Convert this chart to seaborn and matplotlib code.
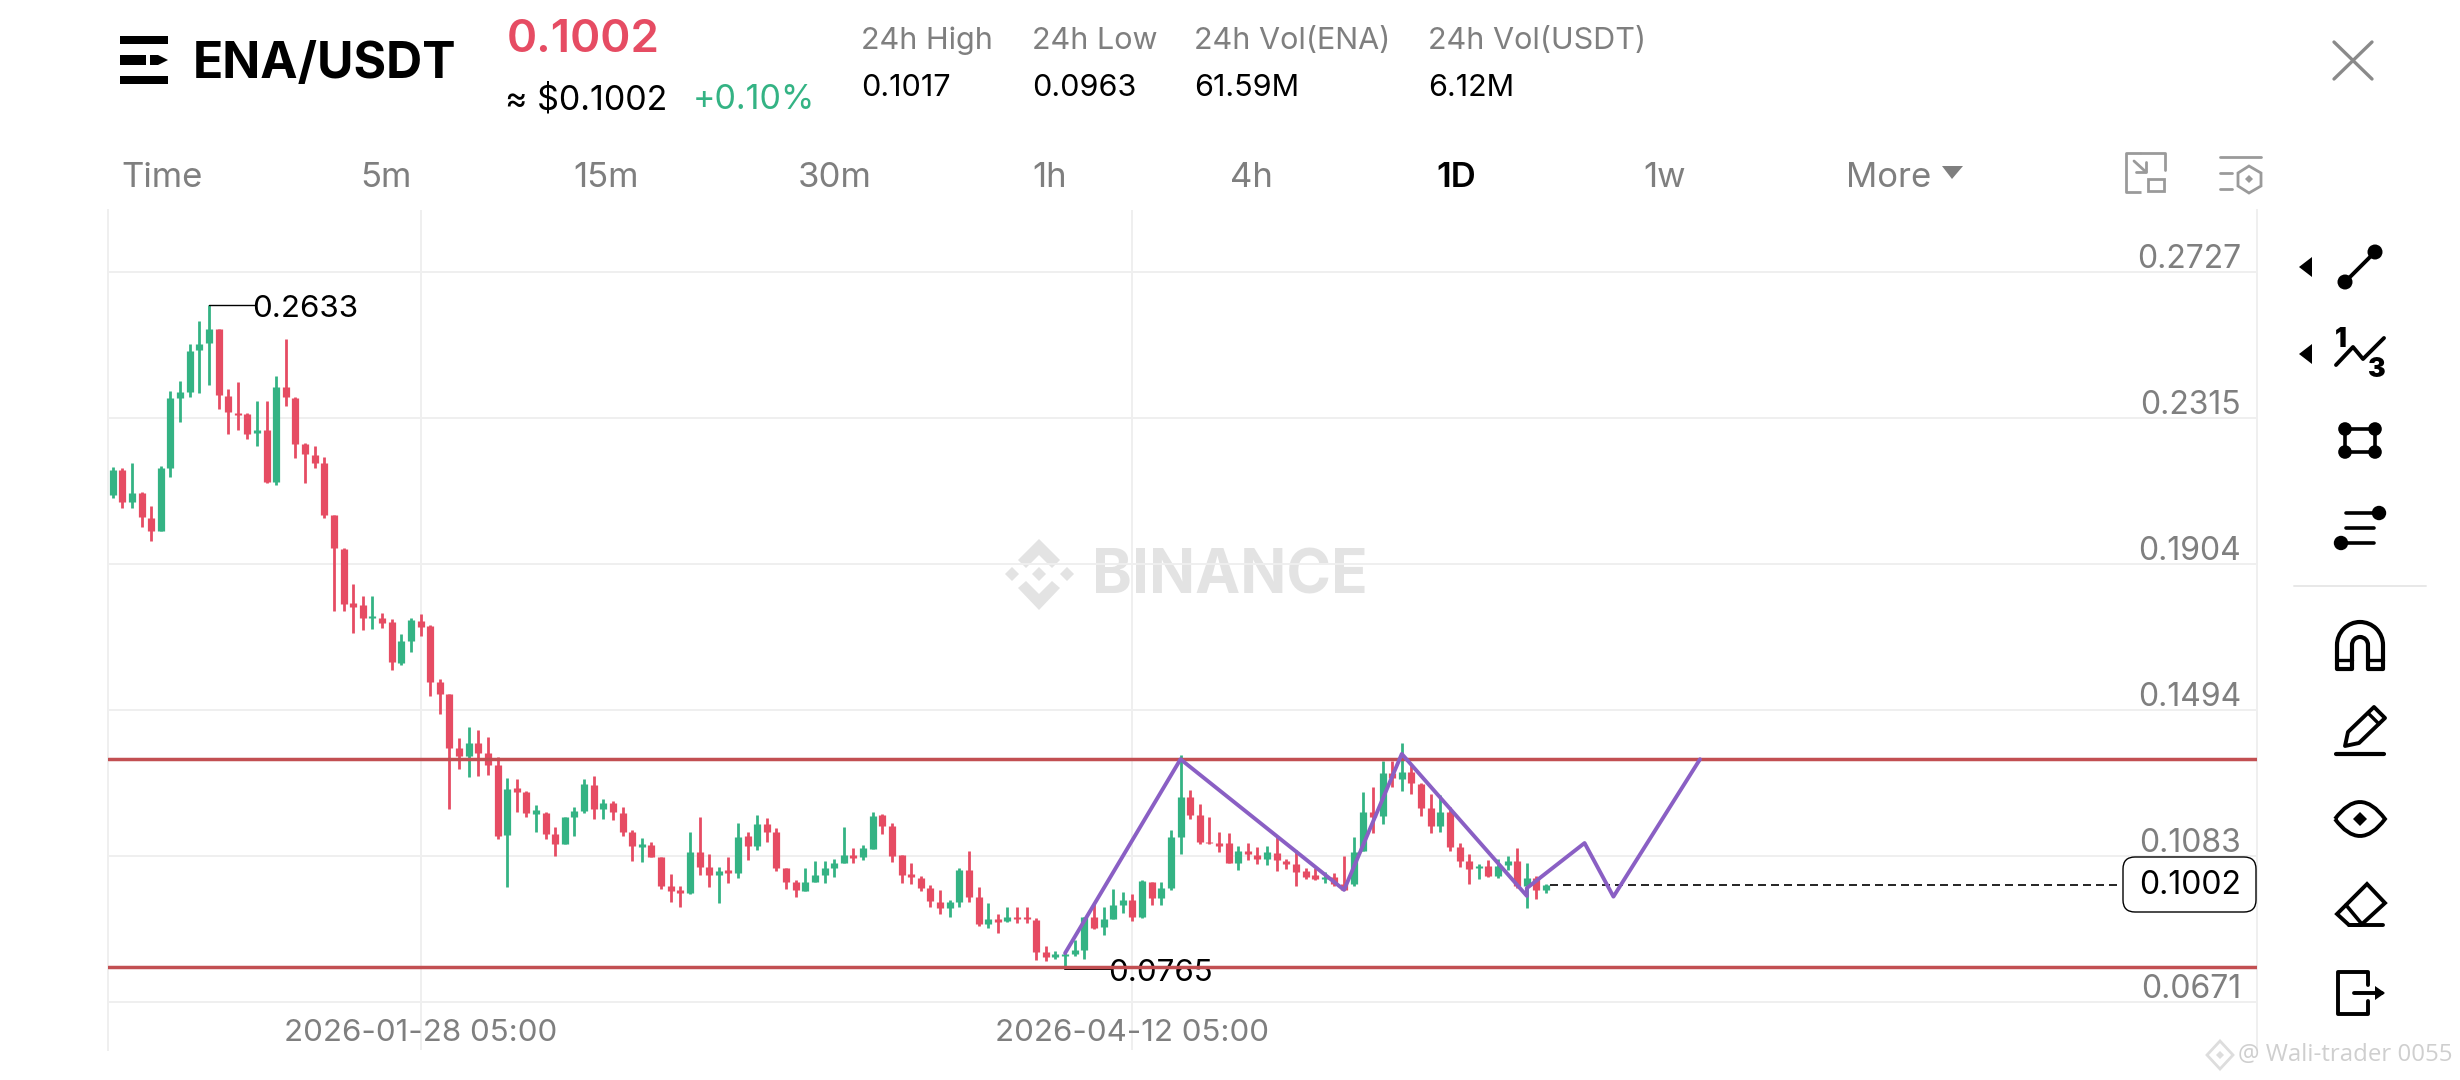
import numpy as np
import pandas as pd
import matplotlib
matplotlib.use("Agg")
import matplotlib.pyplot as plt
import matplotlib.transforms as mtransforms
import seaborn as sns
from matplotlib.patches import Arc, Circle, FancyBboxPatch, PathPatch, Polygon, Rectangle
from matplotlib.path import Path

# ENA/USDT daily candles
highs = [
    .2179, .2174, .2188, .2107, .2069, .2182, .2393, .2420, .2523, .2590,
    .2633, .2567, .2397, .2416, .2331, .2364, .2365, .2434, .2538, .2374,
    .2246, .2238, .2205, .2042, .1949, .1848, .1815, .1816, .1766, .1749,
    .1709, .1752, .1763, .1733, .1580, .1538, .1416, .1447, .1437, .1419,
    .1360, .1303, .1298, .1265, .1226, .1205, .1165, .1193, .1221, .1300,
    .1309, .1242, .1238, .1220, .1156, .1132, .1123, .1080, .1031, .0998,
    .1149, .1193, .1088, .1052, .1081, .1176, .1151, .1198, .1189, .1161,
    .1048, .1015, .1050, .1068, .1068, .1073, .1163, .1104, .1113, .1205,
    .1200, .1176, .1085, .1064, .1027, .1001, .0987, .0960, .1048, .1097,
    .0994, .0949, .0919, .0938, .0940, .0938, .0907, .0829, .0816, .0811,
    .0846, .0912, .0947, .0938, .0989, .0982, .0975, .1015, .1010, .1008,
    .1157, .1367, .1268, .1229, .1191, .1149, .1146, .1111, .1118, .1108,
    .1112, .1137, .1074, .1099, .1048, .1048, .1038, .1036, .1082, .1135,
    .1262, .1278, .1350, .1351, .1400, .1339, .1287, .1257, .1254, .1220,
    .1120, .1087, .1060, .1071, .1074, .1082, .1104, .1062, .1026, .1005,
]
lows = [
    .2092, .2062, .2062, .2010, .1970, .1998, .2151, .2304, .2376, .2385,
    .2409, .2341, .2271, .2282, .2256, .2237, .2132, .2127, .2351, .2202,
    .2132, .2174, .2033, .1773, .1773, .1710, .1719, .1721, .1724, .1606,
    .1620, .1658, .1702, .1534, .1482, .1215, .1327, .1306, .1308, .1311,
    .1129, .0996, .1207, .1191, .1149, .1131, .1083, .1116, .1140, .1203,
    .1186, .1186, .1184, .1139, .1069, .1067, .1080, .0989, .0954, .0940,
    .0975, .1029, .0996, .0951, .1007, .1020, .1071, .1098, .1123, .1040,
    .0990, .0966, .0985, .1008, .1007, .1024, .1064, .1062, .1071, .1101,
    .1144, .1067, .1007, .1004, .0984, .0938, .0918, .0912, .0940, .0954,
    .0885, .0879, .0867, .0898, .0893, .0893, .0790, .0788, .0793, .0765,
    .0801, .0793, .0878, .0860, .0904, .0923, .0899, .0907, .0944, .0945,
    .0988, .1087, .1186, .1116, .1116, .1094, .1064, .1043, .1071, .1060,
    .1057, .1041, .1046, .0999, .1017, .1015, .1007, .0999, .0987, .0999,
    .1096, .1148, .1174, .1278, .1266, .1257, .1196, .1146, .1151, .1097,
    .1052, .1004, .1017, .1024, .1021, .1043, .0991, .0937, .0962, .0977,
]
opens = [
    .2099, .2170, .2080, .2106, .2035, .1999, .2176, .2373, .2388, .2506,
    .2526, .2566, .2379, .2331, .2326, .2273, .2282, .2137, .2404, .2373,
    .2242, .2212, .2188, .2042, .1948, .1794, .1789, .1752, .1754, .1741,
    .1625, .1689, .1745, .1730, .1573, .1538, .1386, .1365, .1400, .1372,
    .1339, .1142, .1273, .1264, .1201, .1204, .1144, .1116, .1191, .1209,
    .1282, .1214, .1233, .1204, .1151, .1109, .1113, .1079, .0999, .0987,
    .0979, .1093, .1052, .1029, .1043, .1036, .1139, .1112, .1173, .1151,
    .1048, .1008, .0985, .1008, .1029, .1050, .1064, .1085, .1079, .1102,
    .1198, .1167, .1084, .1031, .1021, .0991, .0954, .0937, .0954, .1043,
    .0966, .0891, .0905, .0899, .0912, .0910, .0902, .0813, .0799, .0801,
    .0806, .0818, .0910, .0882, .0905, .0944, .0960, .0910, .1008, .0963,
    .0991, .1136, .1248, .1198, .1123, .1120, .1120, .1064, .1097, .1085,
    .1073, .1092, .1068, .1060, .1040, .1029, .1019, .1024, .1004, .1004,
    .1096, .1206, .1195, .1315, .1298, .1320, .1285, .1217, .1167, .1207,
    .1109, .1069, .1048, .1055, .1026, .1057, .1069, .0999, .1020, .0987,
]
closes = [
    .2170, .2080, .2104, .2036, .1998, .2176, .2373, .2390, .2505, .2523,
    .2567, .2380, .2332, .2324, .2270, .2282, .2137, .2404, .2374, .2243,
    .2215, .2188, .2043, .1949, .1792, .1785, .1754, .1759, .1740, .1630,
    .1689, .1747, .1728, .1573, .1539, .1388, .1365, .1400, .1372, .1339,
    .1139, .1271, .1264, .1203, .1212, .1144, .1115, .1191, .1210, .1285,
    .1215, .1233, .1205, .1149, .1111, .1116, .1081, .0998, .0984, .0979,
    .1093, .1052, .1029, .1041, .1036, .1137, .1112, .1173, .1151, .1048,
    .1008, .0987, .1008, .1029, .1048, .1064, .1085, .1078, .1104, .1196,
    .1167, .1082, .1029, .1022, .0991, .0956, .0937, .0954, .1043, .0966,
    .0891, .0905, .0898, .0910, .0905, .0904, .0813, .0797, .0806, .0806,
    .0818, .0910, .0879, .0905, .0944, .0959, .0910, .1012, .0963, .0993,
    .1135, .1248, .1198, .1123, .1118, .1111, .1064, .1097, .1087, .1074,
    .1094, .1071, .1060, .1038, .1024, .1019, .1024, .1004, .0988, .1095,
    .1206, .1193, .1315, .1301, .1320, .1287, .1219, .1167, .1206, .1109,
    .1069, .1046, .1055, .1027, .1055, .1069, .0999, .1020, .0988, .1002,
]

# hand drawn wave, support / resistance, axis labels
wave_x = [99, 111, 128, 134, 147, 147, 153, 156, 165]
wave_y = [.0809, .1355, .0987, .1370, .0970, .0992, .1119, .0968, .1355]
resistance = .1355
support = .0771
last_price = .1002
price_ticks = [.2727, .2315, .1904, .1494, .1083, .0671]
date_ticks = [32, 106]
date_labels = ["2026-01-28 05:00", "2026-04-12 05:00"]
tabs = ["Time", "5m", "15m", "30m", "1h", "4h", "1D", "1w"]
tab_x = [162, 386, 606, 835, 1050, 1251, 1456, 1665]
stats = [("24h High", "0.1017", 861), ("24h Low", "0.0963", 1032),
         ("24h Vol(ENA)", "61.59M", 1194), ("24h Vol(USDT)", "6.12M", 1428)]

GREEN = "#34B384"
RED = "#E64C63"
LINE_RED = "#C24F52"
PURPLE = "#8A5FC4"
GRID = "#EFEFEF"
GREY = "#7F7F7F"

sns.set_theme(style="white")
plt.rcParams["font.family"] = ["Inter", "DejaVu Sans"]

df = pd.DataFrame({"candle": np.arange(len(opens)), "open": opens, "high": highs,
                   "low": lows, "close": closes})
df["dir"] = np.where(df["close"] >= df["open"], "up", "down")
wicks = df.melt(id_vars=["candle", "dir"], value_vars=["low", "high"], value_name="price")
bodies = df.melt(id_vars=["candle", "dir"], value_vars=["open", "close"], value_name="price")
palette = {"up": GREEN, "down": RED}

fig = plt.figure(figsize=(24.6, 10.8), dpi=100, facecolor="white")

# full figure layers in pixel coordinates for the app chrome
def pixel_layer(zorder):
    layer = fig.add_axes([0, 0, 1, 1], zorder=zorder)
    layer.set_xlim(0, 2460)
    layer.set_ylim(1080, 0)
    layer.axis("off")
    return layer

back = pixel_layer(-1)
ax = fig.add_axes([108 / 2460, 1 - 1050 / 1080, 2149 / 2460, 840 / 1080], zorder=1)
ui = pixel_layer(2)
ax.patch.set_alpha(0)

# candles
sns.lineplot(data=wicks, x="candle", y="price", hue="dir", units="candle", estimator=None,
             sort=False, palette=palette, legend=False, linewidth=2.0,
             solid_capstyle="butt", ax=ax, zorder=3)
sns.lineplot(data=bodies, x="candle", y="price", hue="dir", units="candle", estimator=None,
             sort=False, palette=palette, legend=False, linewidth=5.2,
             solid_capstyle="butt", ax=ax, zorder=3)

ax.axhline(resistance, color=LINE_RED, lw=2.5, zorder=5)
ax.axhline(support, color=LINE_RED, lw=2.5, zorder=5)
sns.lineplot(x=wave_x, y=wave_y, estimator=None, sort=False, color=PURPLE, linewidth=2.8,
             ax=ax, zorder=6)
ax.plot([149.4, 208.7], [last_price, last_price], color="black", lw=1.2,
        linestyle=(0, (4.8, 3.0)), zorder=4)

# high / low callouts
ax.plot([10, 14.8], [max(highs), max(highs)], color="black", lw=1, zorder=4)
ax.annotate("0.2633", xy=(14.8, max(highs)), xytext=(-2, -2.5), textcoords="offset points",
            fontsize=22.5, color="black", va="center", ha="left", zorder=4)
ax.plot([99, 103.8], [min(lows), min(lows)], color="black", lw=1.4, zorder=4)
ax.annotate("0.0765", xy=(103.8, min(lows)), xytext=(-2, -3), textcoords="offset points",
            fontsize=22.5, color="black", va="center", ha="left", zorder=4)

# axes
ax.set_xlim(-0.49, 222.9)
ax.set_ylim(0.05362, 0.29016)
ax.set_xticks(date_ticks)
ax.set_xticklabels(date_labels)
ax.set_yticks(price_ticks)
ax.set_yticklabels([f"{t:.4f}" for t in price_ticks])
ax.yaxis.tick_right()
ax.tick_params(axis="x", length=0, pad=-22, labelsize=22.5, labelcolor=GREY)
ax.tick_params(axis="y", length=0, pad=-11.5, labelsize=23, labelcolor=GREY)
# labels sit just above their grid line
label_shift = mtransforms.ScaledTranslation(0, -3 / 100, fig.dpi_scale_trans)
for lab in ax.get_yticklabels():
    lab.set_ha("right")
    lab.set_va("bottom")
    lab.set_transform(lab.get_transform() + label_shift)
ax.grid(True, color=GRID, lw=1.4, zorder=0)
ax.set_axisbelow(True)
ax.set_xlabel("")
ax.set_ylabel("")
for side in ["top", "bottom"]:
    ax.spines[side].set_visible(False)
for side in ["left", "right"]:
    ax.spines[side].set_color(GRID)
    ax.spines[side].set_linewidth(1.4)

# last price tag
ui.text(2190, 885, "0.1002", fontsize=23, color="black", ha="center", va="center", zorder=4)
ui.add_patch(FancyBboxPatch((2123, 857), 133, 55, boxstyle="round,pad=0,rounding_size=12",
                            fc="white", ec="black", lw=1, zorder=3))

# BINANCE watermark
WM = "#E3E3E3"
back.text(1092, 577, "BINANCE", fontsize=43.5, fontweight="bold", color=WM, ha="left", va="center")
for cx in [1012, 1039, 1067]:
    back.add_patch(Polygon([(cx - 7, 574), (cx, 567), (cx + 7, 574), (cx, 581)], fc=WM, ec="none"))
back.add_patch(Polygon([(1018, 560), (1039, 539), (1060, 560), (1052, 568), (1039, 555), (1026, 568)],
                       fc=WM, ec="none"))
back.add_patch(Polygon([(1018, 588), (1039, 610), (1060, 588), (1052, 581), (1039, 594), (1026, 581)],
                       fc=WM, ec="none"))

# header
ui.add_patch(Rectangle((120, 36), 48, 8, fc="black", ec="none"))
ui.add_patch(Rectangle((120, 76), 48, 8, fc="black", ec="none"))
ui.add_patch(Polygon([(120, 55), (158, 55), (168, 60), (158, 65), (120, 65)], fc="black", ec="none"))
ui.add_patch(Rectangle((146, 53), 4, 14, fc="white", ec="none"))
ui.text(193, 64, "ENA/USDT", fontsize=36, fontweight="bold", color="black", va="center")
ui.text(507, 40, "0.1002", fontsize=33, fontweight="semibold", color=RED, va="center")
ui.text(505, 100, "≈ $0.1002", fontsize=24.5, color="black", va="center")
ui.text(693, 100, "+0.10%", fontsize=24.5, color=GREEN, va="center")
for label, value, x in stats:
    ui.text(x, 41, label, fontsize=22, color=GREY, va="center")
    ui.text(x, 88, value, fontsize=22, color="black", va="center")
ui.plot([2334, 2372], [42, 79], color="#8A8A8A", lw=2.4)
ui.plot([2334, 2372], [79, 42], color="#8A8A8A", lw=2.4)

# timeframe tabs
for label, x in zip(tabs, tab_x):
    active = label == "1D"
    ui.text(x, 178, label, fontsize=25, color="black" if active else GREY,
            fontweight="semibold" if active else "normal", ha="center", va="center")
ui.text(1846, 178, "More", fontsize=25, color=GREY, va="center")
ui.add_patch(Polygon([(1942, 166), (1963, 166), (1952, 179)], fc=GREY, ec="none"))

# layout icons next to the tabs
ICON = "#9A9A9A"
ui.plot([2141, 2126, 2126, 2141], [192, 192, 153, 153], color=ICON, lw=2, solid_capstyle="butt")
ui.plot([2141, 2165, 2165], [153, 153, 170], color=ICON, lw=2)
ui.add_patch(Rectangle((2148, 179), 16, 12, fc="none", ec=ICON, lw=2))
ui.plot([2134, 2146], [161, 172], color=ICON, lw=2)
ui.plot([2146, 2146, 2136], [162, 172, 172], color=ICON, lw=2)
ui.plot([2220, 2261], [157, 157], color=ICON, lw=2)
ui.plot([2220, 2232], [173, 173], color=ICON, lw=2)
ui.plot([2220, 2232], [189, 189], color=ICON, lw=2)
ui.add_patch(Polygon([(2249, 166), (2261, 173), (2261, 186), (2249, 193), (2238, 186), (2238, 173)],
                     fc="none", ec=ICON, lw=2))
ui.add_patch(Polygon([(2249, 175), (2253, 179), (2249, 183), (2245, 179)], fc=ICON, ec="none"))

# right drawing toolbar
K = "black"
for y in [267, 354]:
    ui.add_patch(Polygon([(2299, y), (2312, y - 10), (2312, y + 10)], fc=K, ec="none"))
ui.plot([2345, 2375], [282, 252], color=K, lw=2.8)
ui.add_patch(Circle((2345, 282), 7.5, fc=K, ec="none"))
ui.add_patch(Circle((2375, 252), 7.5, fc=K, ec="none"))
ui.plot([2336, 2353, 2363, 2384], [365, 347, 359, 338], color=K, lw=2.8)
ui.text(2341, 340, "1", fontsize=19, fontweight="black", color=K, ha="center", va="center")
ui.text(2377, 370, "3", fontsize=19, fontweight="black", color=K, ha="center", va="center")
ui.plot([2345, 2375, 2375, 2345, 2345], [429, 429, 452, 452, 429], color=K, lw=2.6)
for cx, cy in [(2345, 429), (2375, 429), (2345, 452), (2375, 452)]:
    ui.add_patch(Circle((cx, cy), 6.8, fc=K, ec="none"))
ui.plot([2346, 2379], [513, 513], color=K, lw=2.6)
ui.plot([2346, 2374], [528, 528], color=K, lw=2.6)
ui.plot([2341, 2374], [543, 543], color=K, lw=2.6)
ui.add_patch(Circle((2379, 513), 7.2, fc=K, ec="none"))
ui.add_patch(Circle((2341, 543), 7.2, fc=K, ec="none"))
ui.plot([2294, 2426], [586, 586], color="#E8E8E8", lw=1.4)

# magnet
ui.add_patch(Arc((2360, 645), 46, 46, theta1=180, theta2=360, color=K, lw=3))
ui.add_patch(Arc((2360, 645), 16, 16, theta1=180, theta2=360, color=K, lw=3))
ui.plot([2337, 2337, 2352, 2352], [645, 669, 669, 645], color=K, lw=3)
ui.plot([2368, 2368, 2383, 2383], [645, 669, 669, 645], color=K, lw=3)
ui.plot([2337, 2352], [660, 660], color=K, lw=2.4)
ui.plot([2368, 2383], [660, 660], color=K, lw=2.4)

# pencil
ui.plot([2336, 2384], [754, 754], color=K, lw=3)
ui.add_patch(Polygon([(2345, 746), (2348, 732), (2374, 707), (2385, 718), (2359, 743)],
                     fc="none", ec=K, lw=2.8, joinstyle="round"))
ui.plot([2368, 2379], [713, 724], color=K, lw=2.4)

# eye
eye = Path([(2335, 819), (2360, 785), (2385, 819), (2360, 853), (2335, 819)],
           [Path.MOVETO, Path.CURVE3, Path.CURVE3, Path.CURVE3, Path.CURVE3])
ui.add_patch(PathPatch(eye, fc="none", ec=K, lw=2.8))
ui.add_patch(Polygon([(2360, 812), (2367, 819), (2360, 826), (2353, 819)], fc=K, ec="none"))

# eraser
ui.add_patch(Polygon([(2337, 914), (2367, 884), (2385, 903), (2361, 925), (2349, 925)],
                     fc="none", ec=K, lw=2.8))
ui.plot([2346, 2361], [905, 923], color=K, lw=2.6)
ui.plot([2349, 2383], [925, 925], color=K, lw=2.8)

# exit
ui.plot([2368, 2368, 2338, 2338, 2368, 2368], [985, 972, 972, 1014, 1014, 1001], color=K, lw=2.8)
ui.plot([2354, 2382], [993, 993], color=K, lw=2.8)
ui.add_patch(Polygon([(2385, 993), (2375, 986), (2375, 1000)], fc=K, ec="none"))

# square feed watermark
ui.text(2238, 1055, "@ Wali-trader 0055", fontsize=17.3, color="#CFCFCF", va="center",
        family=["Open Sans", "DejaVu Sans"])
ui.add_patch(Polygon([(2220, 1041), (2233, 1055), (2220, 1069), (2207, 1055)],
                     fc="none", ec="#DDDDDD", lw=2))
ui.add_patch(Polygon([(2220, 1051), (2224, 1055), (2220, 1059), (2216, 1055)], fc="#DDDDDD", ec="none"))

fig.savefig("out.png", dpi=100)
